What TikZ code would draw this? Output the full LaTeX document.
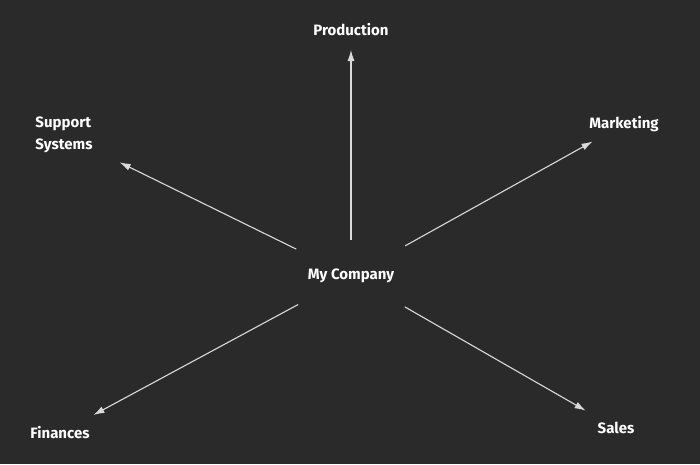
\documentclass[tikz,border=0pt]{standalone}
\usepackage{fontspec}
\setmainfont{Fira Sans}
\usetikzlibrary{arrows.meta}
\definecolor{board}{RGB}{42,42,42}
\definecolor{chalk}{RGB}{218,218,218}

\begin{document}
\begin{tikzpicture}[x=1pt,y=-1pt,
  every node/.style={text=white,font=\fontsize{15}{22}\selectfont\bfseries},
  chalkarrow/.style={-{Latex[length=11pt,width=7pt]},color=chalk,line width=1.1pt}]
\fill[board] (0,0) rectangle (700,464);

\node (company) at (351,276) {My Company};
\node (prod) at (351,30) {Production};
\node (support) [align=left] at (64,135) {Support\\Systems};
\node (market) at (624,124) {Marketing};
\node (fin) at (60,433) {Finances};
\node (sales) at (616,428) {Sales};

\path
  (company.center) edge[chalkarrow, shorten <=36pt, shorten >=20pt] (prod.center)
  (company.center) edge[chalkarrow, shorten <=61pt, shorten >=62pt] (support.center)
  (company.center) edge[chalkarrow, shorten <=62pt, shorten >=36pt] (market.center)
  (company.center) edge[chalkarrow, shorten <=60pt, shorten >=38pt] (fin.center)
  (company.center) edge[chalkarrow, shorten <=62pt, shorten >=35pt] (sales.center);

\end{tikzpicture}
\end{document}
